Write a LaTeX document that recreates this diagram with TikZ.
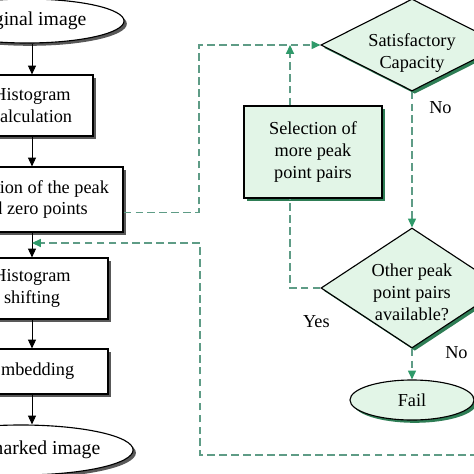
\documentclass[tikz,border=0pt]{standalone}
\usepackage{fontspec}
\setmainfont{Liberation Serif}
\usetikzlibrary{arrows.meta,calc,shapes.geometric,shadows}
\definecolor{palegreen}{HTML}{E2F5E7}
\definecolor{darkgreen}{HTML}{2E7D55}
\definecolor{dashgreen}{HTML}{5E9C86}
\definecolor{tipgreen}{HTML}{2F9A6A}

\tikzset{
  base/.style={draw=black,line width=0.8pt,inner sep=0pt,align=center,font=\fontsize{13}{15.5}\selectfont},
  greyshadow/.style={drop shadow={shadow xshift=0.07cm,shadow yshift=-0.07cm,fill=black!65,opacity=1}},
  greenshadow/.style={drop shadow={shadow xshift=0.07cm,shadow yshift=-0.07cm,fill=darkgreen,opacity=1}},
  procbox/.style={base,rectangle,fill=white,greyshadow},
  termbox/.style={base,ellipse,fill=white,greyshadow,font=\fontsize{14}{16.5}\selectfont},
  gbox/.style={base,rectangle,fill=palegreen,greenshadow},
  gterm/.style={base,ellipse,fill=palegreen,greenshadow},
  decide/.style={base,diamond,fill=palegreen,greenshadow},
  lbl/.style={font=\fontsize{13}{15.5}\selectfont,align=center,text=black},
  flow/.style={-{Triangle[length=0.22cm,width=0.2cm]},line width=0.6pt},
  loop/.style={dashgreen,line width=0.8pt,dash pattern=on 5.5pt off 3pt},
  loopto/.style={loop,-{Triangle[length=0.22cm,width=0.2cm,color=tipgreen]}}
}

\begin{document}
\begin{tikzpicture}[x=0.025cm,y=-0.025cm]
\useasboundingbox (0,0) rectangle (474,474);
\clip (0,0) rectangle (474,474);

% main column
\node[termbox,minimum width=4.85cm,minimum height=1.1cm] (orig) at (27,21) {Original image};
\node[procbox,minimum width=3.05cm,minimum height=1.525cm] (hcalc) at (32,105.5) {Histogram\\calculation};
\node[procbox,minimum width=4.55cm,minimum height=1.625cm] (selpk) at (32,199.5) {Selection of the peak\\and zero points};
\node[procbox,minimum width=3.8cm,minimum height=1.525cm] (hshift) at (32,288.5) {Histogram\\shifting};
\node[procbox,minimum width=3.8cm,minimum height=1.125cm] (embed) at (32,371.5) {Embedding};
\node[termbox,minimum width=5.2cm,minimum height=1.25cm] (wmark) at (21,450) {Watermarked image};

% right side
\node[decide,minimum width=4.55cm,minimum height=2.3cm,
  label={[lbl,yshift=-0.2cm]center:{Satisfactory\\Capacity}}] (sat) at (412,45) {};
\node[decide,minimum width=4.55cm,minimum height=3cm,
  label={[lbl,yshift=-0.1cm]center:{Other peak\\point pairs\\available?}}] (other) at (412,288) {};
\node[gterm,minimum width=3.1cm,minimum height=1cm] (fail) at (412,400) {Fail};
\node[gbox,minimum width=3.45cm,minimum height=2.3cm] (more) at (313,152) {Selection of\\more peak\\point pairs};

\coordinate (jn) at (32,243);
\coordinate (upc) at (199,45);
\coordinate (yesx) at (290,0);
\coordinate (offr) at (490,455);
\coordinate (backc) at (200,455);

\draw[flow] (orig.south -| hcalc.north) -- (hcalc);
\draw[flow] (hcalc) -- (selpk);
\draw[flow] (selpk) -- (hshift);
\draw[flow] (hshift) -- (embed);
\draw[flow] (embed) -- (embed.south |- wmark.north);

\draw[loopto] ([yshift=-0.325cm]selpk.east) -| (upc) -- (sat.west);
\draw[loopto] (more.north -| yesx) -- (sat.west -| yesx);
\draw[loop] (other.west) -- node[lbl,pos=0,xshift=-0.1cm,yshift=-0.85cm] {Yes} (other.west -| yesx) -- (more.south -| yesx);
\draw[loopto] (sat.south) -- node[lbl,pos=0.12,anchor=west,xshift=0.3cm] {No} (other.north);
\draw[loopto] (other.south) -- node[lbl,pos=0.12,anchor=west,xshift=0.7cm] {No} (fail.north);
\draw[loopto] (offr) -- (backc) |- (jn);
\end{tikzpicture}
\end{document}
